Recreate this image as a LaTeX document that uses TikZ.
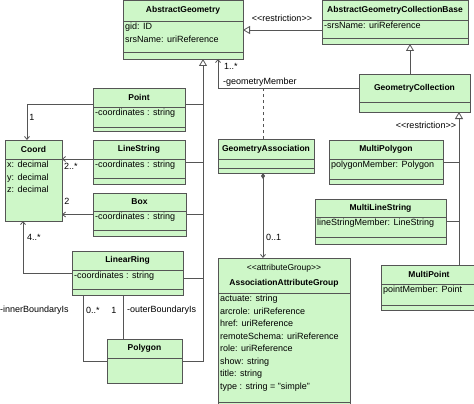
\documentclass[tikz,border=0pt]{standalone}
\usepackage{fontspec}
\setmainfont{Liberation Sans}
\usetikzlibrary{arrows.meta,calc}
\definecolor{classgreen}{RGB}{206,247,200}
\definecolor{linegray}{RGB}{85,85,85}

\tikzset{
  classbox/.style={draw=linegray, fill=classgreen, rectangle, inner sep=0pt, outer sep=0pt, line width=0.8pt},
  classline/.style={draw=linegray, line width=0.8pt},
  titletext/.style={font=\fontsize{8.5}{11}\selectfont\bfseries, align=center, inner sep=0pt},
  attrtext/.style={font=\fontsize{9}{12.5}\selectfont, align=left, inner sep=2pt, anchor=north west},
  lbl/.style={font=\fontsize{9}{10}\selectfont, inner sep=0pt},
  assoc/.style={draw=linegray, line width=0.8pt, -{Straight Barb[length=3pt,width=5pt]}},
  inherit/.style={draw=linegray, line width=0.8pt, -{Triangle[open,length=7pt,width=8pt]}},
  plain/.style={draw=linegray, line width=0.8pt},
}

% name, x, y, width, title h, attribute h, rest h, title, attributes
\newcommand{\umlclass}[9]{%
  \node[classbox, minimum width=#4, minimum height=#5+#6+#7, anchor=north west] (#1) at (#2,#3) {};
  \draw[classline] (#2,#3+#5) -- ++(#4,0);
  \draw[classline] (#2,#3+#5+#6) -- ++(#4,0);
  \node[titletext] (#1-t) at (#2+#4/2,#3+#5/2) {#8};
  \node[attrtext] (#1-a) at (#2,#3+#5) {#9};
}

\begin{document}
\begin{tikzpicture}[x=1pt,y=-1pt]
  \useasboundingbox (0,0) rectangle (474,404);
  \fill[white] (0,0) rectangle (474,404);

  \umlclass{ag}{123}{0}{120}{21}{31}{7}{AbstractGeometry}{gid: ID\\srsName: uriReference}
  \umlclass{agcb}{322}{0}{146}{20}{18}{6}{AbstractGeometryCollectionBase}{-srsName: uriReference}
  \umlclass{gc}{359}{74}{111}{28}{0}{10}{GeometryCollection}{}
  \umlclass{ga}{218}{139}{96}{20}{9}{5}{GeometryAssociation}{}
  \umlclass{aag}{218}{258}{132}{35}{109}{8}{{\mdseries <{}<attributeGroup>{}>}\\[4pt]AssociationAttributeGroup}{actuate: string\\arcrole: uriReference\\href: uriReference\\remoteSchema: uriReference\\role: uriReference\\show: string\\title: string\\type : string = "simple"}
  \umlclass{mpoly}{329}{140}{114}{19}{20}{5}{MultiPolygon}{polygonMember: Polygon}
  \umlclass{mls}{315}{199}{131}{18}{20}{7}{MultiLineString}{lineStringMember: LineString}
  \umlclass{mpt}{381}{265}{96}{19}{21}{5}{MultiPoint}{pointMember: Point}
  \umlclass{point}{93}{88}{92}{19}{20}{4}{Point}{-coordinates : string}
  \umlclass{ls}{93}{140}{92}{19}{19}{6}{LineString}{-coordinates : string}
  \umlclass{box}{93}{193}{93}{18}{19}{6}{Box}{-coordinates : string}
  \umlclass{coord}{5}{140}{57}{19}{62}{0}{Coord}{x: decimal\\y: decimal\\z: decimal}
  \umlclass{lr}{72}{251}{111}{19}{19}{6}{LinearRing}{-coordinates : string}
  \umlclass{poly}{107}{339}{75}{19}{25}{0}{Polygon}{}

  % restriction and inheritance
  \draw[inherit] ($(agcb.north west)+(0,30)$) -- ($(ag.north east)+(0,30)$);
  \node[lbl] (r1) at (282,18) {<{}<restriction>{}>};
  \draw[inherit] ($(gc.north west)+(51,0)$) coordinate (g1) -- (g1 |- agcb.south);
  \draw[inherit] ($(mpt.north west)+(78,0)$) coordinate (g2) -- (g2 |- gc.south);
  \node[lbl] (r2) at (426,125) {<{}<restriction>{}>};
  \draw[plain] (mpoly.east) -- (mpoly.east -| g2);
  \draw[plain] (mls.east) -- (mls.east -| g2);

  \coordinate (tr) at ($(ag.south west)+(80,0)$);
  \draw[inherit] (poly.east) -| (tr);
  \draw[plain] ($(point.north east)+(0,16)$) coordinate (p1) -- (p1 -| tr);
  \draw[plain] (ls.east) -- (ls.east -| tr);
  \draw[plain] (box.east) -- (box.east -| tr);
  \draw[plain] ($(lr.north east)+(0,27)$) coordinate (p2) -- (p2 -| tr);

  % geometryMember
  \draw[assoc] ($(gc.north west)+(0,14)$) coordinate (gm) -| ($(ag.south west)+(95,0)$);
  \node[lbl, anchor=west] (m1) at (224,66) {1..*};
  \node[lbl, anchor=west] (m2) at (223,82) {-geometryMember};
  \draw[plain, dashed] ($(ga.north west)+(45,0)$) coordinate (d) -- (d |- gm);
  \draw[draw=linegray, line width=0.8pt, {Diamond[length=6pt,width=4pt]}-{Straight Barb[length=3pt,width=5pt]}]
    ($(ga.south west)+(45,0)$) coordinate (e) -- (e |- aag.north);
  \node[lbl, anchor=west] (m3) at (266,237) {0..1};

  % coordinates
  \draw[assoc] ($(point.north west)+(0,16)$) -| ($(coord.north west)+(22,0)$);
  \node[lbl] (c1) at (32,117) {1};
  \draw[assoc] ($(ls.north west)+(0,19)$) coordinate (c) -- (c -| coord.east);
  \node[lbl, anchor=west] (c2) at (64,166) {2..*};
  \draw[assoc] (box.west) -- (box.west -| coord.east);
  \node[lbl] (c3) at (67,201) {2};
  \draw[assoc] ($(lr.north west)+(0,22)$) -| ($(coord.south west)+(18,0)$);
  \node[lbl, anchor=west] (c4) at (27,237) {4..*};

  % boundaries
  \draw[plain] ($(lr.south west)+(11,0)$) |- (poly.west);
  \draw[plain] ($(lr.south west)+(51,0)$) coordinate (o) -- (o |- poly.north);
  \node[lbl, anchor=west] (b1) at (0,310) {-innerBoundaryIs};
  \node[lbl, anchor=west] (b2) at (86,310) {0..*};
  \node[lbl] (b3) at (114,310) {1};
  \node[lbl, anchor=west] (b4) at (127,310) {-outerBoundaryIs};
\end{tikzpicture}
\end{document}
